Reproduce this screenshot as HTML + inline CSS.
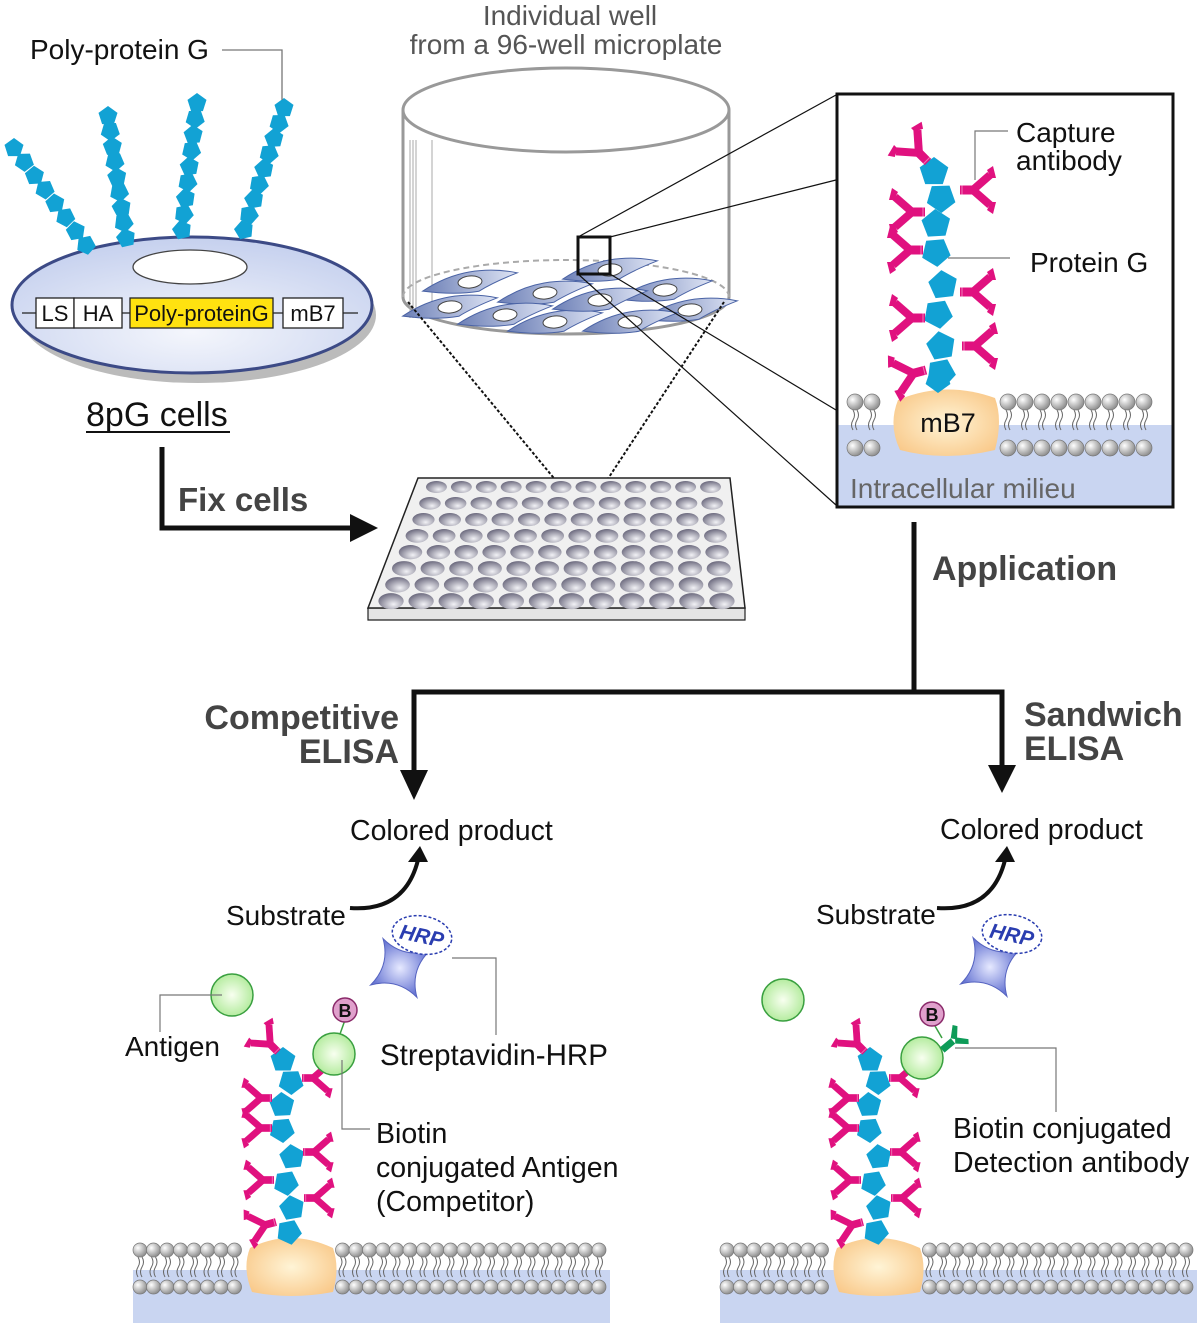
<!DOCTYPE html>
<html><head><meta charset="utf-8"><style>
html,body{margin:0;padding:0;background:#fff}
svg{display:block}
text{font-family:"Liberation Sans",Arial,sans-serif}
</style></head><body>
<svg id="s" xmlns="http://www.w3.org/2000/svg" width="1200" height="1328" viewBox="0 0 1200 1328">
<defs>
<radialGradient id="cellg" cx="0.5" cy="0.7" r="0.7"><stop offset="0" stop-color="#f4f6fc"/><stop offset="1" stop-color="#c5d0ee"/></radialGradient>
<radialGradient id="lip" cx="0.35" cy="0.35" r="0.7"><stop offset="0" stop-color="#fff"/><stop offset="1" stop-color="#8a8a8a"/></radialGradient>
<radialGradient id="blob" cx="0.5" cy="0.5" r="0.6"><stop offset="0" stop-color="#fff4d6"/><stop offset="1" stop-color="#f9c98a"/></radialGradient>
<radialGradient id="grn" cx="0.5" cy="0.5" r="0.6"><stop offset="0" stop-color="#f8fff0"/><stop offset="1" stop-color="#a8e890"/></radialGradient>
<radialGradient id="well" cx="0.6" cy="0.7" r="0.7"><stop offset="0" stop-color="#f2f2f6"/><stop offset="1" stop-color="#6e6c80"/></radialGradient>
<radialGradient id="sa" cx="0.5" cy="0.5" r="0.6"><stop offset="0" stop-color="#e6e9ff"/><stop offset="1" stop-color="#6a78d4"/></radialGradient>
<linearGradient id="wc" x1="0" y1="0" x2="1" y2="0"><stop offset="0" stop-color="#6c7fb6"/><stop offset="1" stop-color="#dfe5f5"/></linearGradient>
</defs>
<g id="g"></g>

<text x="30" y="59" font-size="28" fill="#111">Poly-protein G</text>
<polyline points="222,50 282,50 282,100" fill="none" stroke="#777" stroke-width="1.3"/>
<text x="570" y="25" font-size="28" fill="#555" text-anchor="middle">Individual well</text>
<text x="566" y="54" font-size="28" fill="#555" text-anchor="middle">from a 96-well microplate</text>
<text x="86" y="426" font-size="34" fill="#111">8pG cells</text>
<line x1="86" y1="432" x2="230" y2="432" stroke="#111" stroke-width="2"/>
<text x="178" y="511" font-size="33" font-weight="bold" fill="#444">Fix cells</text>
<text x="1016" y="142" font-size="28" fill="#111">Capture</text>
<text x="1016" y="170" font-size="28" fill="#111">antibody</text>
<polyline points="1008,131 975,131 975,180" fill="none" stroke="#777" stroke-width="1.2"/>
<text x="1030" y="272" font-size="28" fill="#111">Protein G</text>
<line x1="948" y1="258" x2="1010" y2="258" stroke="#777" stroke-width="1.2"/>
<text x="932" y="580" font-size="34" font-weight="bold" fill="#444">Application</text>
<text x="399" y="729" font-size="34" font-weight="bold" fill="#444" text-anchor="end">Competitive</text>
<text x="399" y="763" font-size="34" font-weight="bold" fill="#444" text-anchor="end">ELISA</text>
<text x="1024" y="726" font-size="34" font-weight="bold" fill="#444">Sandwich</text>
<text x="1024" y="760" font-size="34" font-weight="bold" fill="#444">ELISA</text>
<text x="350" y="840" font-size="28.5" fill="#111">Colored product</text>
<text x="940" y="839" font-size="28.5" fill="#111">Colored product</text>
<text x="226" y="925" font-size="28" fill="#111">Substrate</text>
<text x="816" y="924" font-size="28" fill="#111">Substrate</text>
<text x="125" y="1056" font-size="28" fill="#111">Antigen</text>
<polyline points="160,1032 160,995 222,995" fill="none" stroke="#777" stroke-width="1.2"/>
<text x="380" y="1065" font-size="29.5" fill="#111">Streptavidin-HRP</text>
<polyline points="452,958 496,958 496,1035" fill="none" stroke="#777" stroke-width="1.2"/>
<text x="376" y="1143" font-size="28.5" fill="#111">Biotin</text>
<text x="376" y="1177" font-size="28.5" fill="#111">conjugated Antigen</text>
<text x="376" y="1211" font-size="28.5" fill="#111">(Competitor)</text>
<polyline points="342,1060 342,1129 370,1129" fill="none" stroke="#777" stroke-width="1.2"/>
<text x="953" y="1138" font-size="28.5" fill="#111">Biotin conjugated</text>
<text x="953" y="1172" font-size="28.5" fill="#111">Detection antibody</text>
<polyline points="955,1048 1056,1048 1056,1112" fill="none" stroke="#777" stroke-width="1.2"/>
</svg>
<script>
var NS="http://www.w3.org/2000/svg",G=document.getElementById("g");
function el(t,a,p){var e=document.createElementNS(NS,t);for(var k in a)e.setAttribute(k,a[k]);(p||G).appendChild(e);return e;}
function pent(cx,cy,r,rot,fill){var p=[];for(var i=0;i<5;i++){var a=rot+i*2*Math.PI/5-Math.PI/2;p.push((cx+r*Math.cos(a)).toFixed(1)+","+(cy+r*Math.sin(a)).toFixed(1));}el("polygon",{points:p.join(" "),fill:fill||"#12a2d4"});}
function ab(x,y,ang,s){var g=el("g",{transform:"translate("+x+","+y+") rotate("+ang+") scale("+s+")"});
el("line",{x1:0,y1:0,x2:-16,y2:0,stroke:"#e0117f","stroke-width":9},g);
el("line",{x1:-14,y1:-1,x2:-30,y2:-15,stroke:"#e0117f","stroke-width":8},g);
el("line",{x1:-14,y1:1,x2:-30,y2:15,stroke:"#e0117f","stroke-width":8},g);
el("polygon",{points:"-27,-20 -33,-24 -36,-12 -31,-12",fill:"#e0117f"},g);
el("polygon",{points:"-27,20 -33,24 -36,12 -31,12",fill:"#e0117f"},g);
el("line",{x1:-2,y1:-4.5,x2:-2,y2:4.5,stroke:"#f07ab8","stroke-width":1},g);}
function membrane(x0,x1,yt,yb,sp,sk0,sk1,r){for(var x=x0;x<=x1;x+=sp){if(x>sk0&&x<sk1)continue;
el("path",{d:"M"+(x-2)+","+(yt+r)+" q3,5 0,10 q-3,5 0,10 M"+(x+2)+","+(yt+r)+" q3,5 0,10 q-3,5 0,10",stroke:"#666",fill:"none","stroke-width":1});
el("circle",{cx:x,cy:yt,r:r,fill:"url(#lip)",stroke:"#777","stroke-width":0.7});
el("circle",{cx:x,cy:yb,r:r,fill:"url(#lip)",stroke:"#777","stroke-width":0.7});}}
el("ellipse",{cx:198,cy:315,rx:178,ry:68,fill:"#bbb"});
el("ellipse",{cx:192,cy:305,rx:180,ry:68,fill:"url(#cellg)",stroke:"#3c4a86","stroke-width":3});
el("ellipse",{cx:190,cy:267,rx:57,ry:17,fill:"#fff",stroke:"#444","stroke-width":1.3});
el("line",{x1:22,y1:313,x2:358,y2:313,stroke:"#222","stroke-width":1.3});
[[36,38,"LS","#fff"],[74,48,"HA","#fff"],[130,143,"Poly-proteinG","#ffe210"],[283,60,"mB7","#fff"]].forEach(function(b){
el("rect",{x:b[0],y:298,width:b[1],height:30,fill:b[3],stroke:"#222","stroke-width":1.3});
var t=el("text",{x:b[0]+b[1]/2,y:321,"font-size":22,"text-anchor":"middle",fill:"#111"});t.textContent=b[2];});
[[[14,148],[86,245],8],[[108,116],[126,238],9],[[197,103],[182,230],9],[[284,108],[244,230],9]].forEach(function(c){
for(var i=0;i<c[2];i++){var f=i/(c[2]-1);pent(c[0][0]+(c[1][0]-c[0][0])*f,c[0][1]+(c[1][1]-c[0][1])*f,10,i*0.6);}});
el("polyline",{points:"162,447 162,528 352,528",fill:"none",stroke:"#111","stroke-width":5});
el("polygon",{points:"350,514 378,528 350,542",fill:"#111"});
el("path",{d:"M403,110 L403,297 A163,37 0 0 0 729,297 L729,110",fill:"#fff",stroke:"#999","stroke-width":3});
el("ellipse",{cx:566,cy:110,rx:163,ry:42,fill:"#fff",stroke:"#999","stroke-width":3});
[410,413,416,432].forEach(function(x){el("line",{x1:x,y1:140,x2:x,y2:318,stroke:"#aaa","stroke-width":1});});
el("path",{d:"M403,297 A163,37 0 0 1 729,297",fill:"none",stroke:"#aaa","stroke-width":2,"stroke-dasharray":"6,4"});
[[470,282],[610,270],[545,293],[665,290],[450,307],[690,310],[555,322],[600,300],[505,315],[630,322]].forEach(function(c,i){
var g=el("g",{transform:"translate("+c[0]+","+c[1]+") rotate(-5)"});
el("path",{d:"M-48,5 Q-24,-8 0,-10 Q24,-12 48,-5 Q24,2 8,10 Q-16,12 -48,5z",fill:"url(#wc)",stroke:"#4a63a5","stroke-width":1},g);
el("ellipse",{cx:0,cy:0,rx:12,ry:6,fill:"#fff",stroke:"#444","stroke-width":1},g);});
el("rect",{x:578,y:237,width:32,height:37,fill:"none",stroke:"#111","stroke-width":3});
[[578,237,836,95],[610,237,836,180],[610,274,836,410],[578,274,836,505]].forEach(function(l){el("line",{x1:l[0],y1:l[1],x2:l[2],y2:l[3],stroke:"#111","stroke-width":1.2});});
el("line",{x1:408,y1:302,x2:572,y2:500,stroke:"#111","stroke-width":2,"stroke-dasharray":"3,2"});
el("line",{x1:724,y1:302,x2:594,y2:500,stroke:"#111","stroke-width":2,"stroke-dasharray":"3,2"});
el("polygon",{points:"368,608 745,608 745,620 368,620",fill:"#e4e4e4",stroke:"#222","stroke-width":1.2});
el("polygon",{points:"418,478 730,478 745,608 368,608",fill:"#f0f0f0",stroke:"#222","stroke-width":1.5});
for(var r=0;r<8;r++)for(var c=0;c<12;c++){var fy=r/7,y=487+r*16.3,xl=424-fy*48,xr=723+fy*14,x=xl+(xr-xl)*(c+0.5)/12,w=(xr-xl)/12;
el("ellipse",{cx:x,cy:y,rx:w*0.42,ry:6+fy*2,fill:"url(#well)"});}
el("rect",{x:838,y:425,width:334,height:82,fill:"#c9d5f1"});
membrane(855,1160,402,448,17,885,1000,8);
el("path",{d:"M898,400 Q945,380 995,398 Q1003,420 995,450 Q945,462 900,450 Q888,425 898,400z",fill:"url(#blob)"});
el("text",{x:948,y:432,"font-size":27,"text-anchor":"middle",fill:"#111"}).textContent="mB7";
el("text",{x:850,y:498,"font-size":28,fill:"#666"}).textContent="Intracellular milieu";
var bc=[[934,172],[941,198],[936,224],[936,252],[943,285],[938,314],[941,346],[941,373]];
bc.forEach(function(p,i){pent(p[0],p[1],15,i*0.6);});
pent(938,380,13,Math.PI);
ab(928,162,45,1);
[[960,190,180],[925,212,0],[923,250,0],[960,292,180],[925,318,0],[962,346,180],[926,370,-15]].forEach(function(a){ab(a[0],a[1],a[2],1)});
el("rect",{x:837,y:94,width:336,height:413,fill:"none",stroke:"#111","stroke-width":3});
el("polyline",{points:"914,522 914,692",stroke:"#111","stroke-width":5,fill:"none"});
el("polyline",{points:"414,770 414,692 1002,692 1002,765",stroke:"#111","stroke-width":5,fill:"none"});
el("polygon",{points:"400,770 428,770 414,800",fill:"#111"});
el("polygon",{points:"988,765 1016,765 1002,793",fill:"#111"});
function panel(dx,sand){
el("rect",{x:133+dx,y:1270,width:477,height:53,fill:"#c9d5f1"});
membrane(140+dx,600+dx,1250,1287,13.5,243+dx,335+dx,7);
el("path",{d:"M"+(250+dx)+",1248 Q"+(290+dx)+",1228 "+(333+dx)+",1248 Q"+(340+dx)+",1268 "+(333+dx)+",1292 Q"+(290+dx)+",1300 "+(252+dx)+",1292 Q"+(242+dx)+",1268 "+(250+dx)+",1248z",fill:"url(#blob)"});
var ch=[[283,1060],[291,1082],[282,1105],[282,1130],[292,1157],[286,1183],[292,1208],[289,1232]];
ch.forEach(function(p,i){pent(p[0]+dx,p[1],13,i*0.6);});
ab(278+dx,1052,45,0.85);
[[302,1078,180],[272,1098,0],[272,1128,0],[303,1152,180],[274,1180,0],[304,1198,180],[276,1222,-15]].forEach(function(a){ab(a[0]+dx,a[1],a[2],0.85);});
el("path",{d:"M"+(350+dx)+",908 Q"+(405+dx)+",912 "+(418+dx)+",860",fill:"none",stroke:"#111","stroke-width":4});
el("polygon",{points:(408+dx)+",862 "+(428+dx)+",862 "+(420+dx)+",846",fill:"#111"});
var sx=sand?990:400,sy=sand?967:968;
el("path",{d:"M-24,-24 Q0,-10 24,-24 Q10,0 24,24 Q0,10 -24,24 Q-10,0 -24,-24 z",fill:"url(#sa)",stroke:"#5563c0","stroke-width":1,transform:"translate("+sx+","+sy+") rotate(15)"});
el("ellipse",{cx:sx+22,cy:sy-33,rx:30,ry:19,fill:"#fff",stroke:"#2a3db0","stroke-width":1.5,"stroke-dasharray":"3,2",transform:"rotate(10 "+(sx+22)+" "+(sy-33)+")"});
el("text",{x:sx+22,y:sy-25,"font-size":21,"font-weight":"bold","font-style":"italic","text-anchor":"middle",fill:"#2a3db0",transform:"rotate(12 "+(sx+22)+" "+(sy-33)+")"}).textContent="HRP";
}
panel(0,false);panel(587,true);
function green(x,y){el("circle",{cx:x,cy:y,r:21,fill:"url(#grn)",stroke:"#3aa040","stroke-width":1.5});}
function biot(x,y){el("circle",{cx:x,cy:y,r:12,fill:"#e0a0cc",stroke:"#8a2a6a","stroke-width":1.5});el("text",{x:x,y:y+7,"font-size":18,"font-weight":"bold","text-anchor":"middle",fill:"#111"}).textContent="B";}
green(232,995);el("line",{x1:340,y1:1034,x2:345,y2:1020,stroke:"#3aa040","stroke-width":1.5});biot(345,1010);green(334,1054);
green(783,1000);green(922,1058);
el("line",{x1:935,y1:1026,x2:942,y2:1038,stroke:"#3aa040","stroke-width":1.5});biot(932,1014);
var gg=el("g",{transform:"translate(945,1047) rotate(-40)"});
el("rect",{x:-4,y:-3,width:14,height:7,fill:"#0e9b58"},gg);
el("polygon",{points:"10,-3 20,-12 23,-8 14,2",fill:"#0e9b58"},gg);el("polygon",{points:"10,4 20,13 23,9 14,-1",fill:"#0e9b58"},gg);
</script>
</body></html>
